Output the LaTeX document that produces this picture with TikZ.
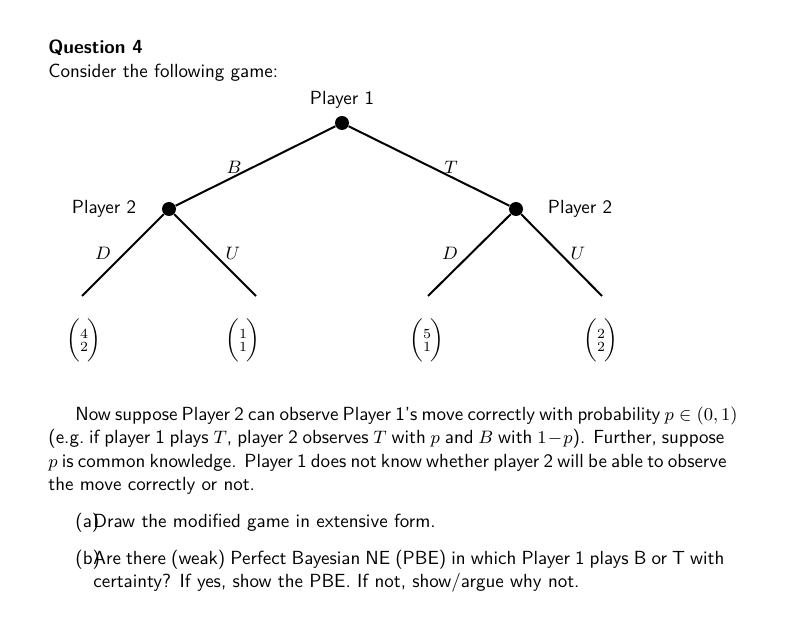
\documentclass[tikz,border=0pt]{standalone}
\usepackage{amsmath}
\renewcommand{\familydefault}{\sfdefault}
\newcommand{\payoff}[2]{$\left(\begin{matrix}\scriptstyle #1\\[-5pt] \scriptstyle #2\end{matrix}\right)$}
\begin{document}
\fontsize{9.5}{11.5}\selectfont
\begin{tikzpicture}[x=0.5pt,y=-0.5pt,
  dot/.style={circle,fill=black,inner sep=0pt,minimum size=7pt},
  edge/.style={line width=1pt},
  lab/.style={inner sep=0pt},
  pay/.style={inner sep=0pt},
  ln/.style={anchor=base west,inner sep=0pt}]
\useasboundingbox (0,0) rectangle (788,636);
\node[ln,font=\bfseries] (q) at (48,54) {Question 4};
\node[ln] (c) at (48,78) {Consider the following game:};
\node[dot] (r) at (342,123) {};
\node[dot] (l) at (169,209) {};
\node[dot] (rr) at (516,209) {};
\coordinate (l1) at (82,296);
\coordinate (l2) at (256,296);
\coordinate (l3) at (428,296);
\coordinate (l4) at (602,296);
\draw[edge] (r) -- (l); \draw[edge] (r) -- (rr);
\draw[edge] (l) -- (l1); \draw[edge] (l) -- (l2);
\draw[edge] (rr) -- (l3); \draw[edge] (rr) -- (l4);
\node[lab] (p1) at (342,100) {Player 1};
\node[lab] (p2a) at (104,209) {Player 2};
\node[lab] (p2b) at (580,209) {Player 2};
\node[lab] (b) at (234,167) {$B$};
\node[lab] (t) at (451,167) {$T$};
\node[lab] (d1) at (103,253) {$D$};
\node[lab] (u1) at (233,253) {$U$};
\node[lab] (d2) at (450,253) {$D$};
\node[lab] (u2) at (578,253) {$U$};
\node[pay] (a1) at (84,340) {\payoff{4}{2}};
\node[pay] (a2) at (243,340) {\payoff{1}{1}};
\node[pay] (a3) at (427,340) {\payoff{5}{1}};
\node[pay] (a4) at (601,340) {\payoff{2}{2}};
\node[ln] (pl1) at (75,421) {\hbox to 324.5pt{Now suppose Player 2 can observe Player 1's move correctly with probability $p\in(0,1)$}};
\node[ln] (pl2) at (48,444) {\hbox to 338pt{(e.g.\ if player 1 plays $T$, player 2 observes $T$ with $p$ and $B$ with $1-p$). Further, suppose}};
\node[ln] (pl3) at (48,467) {\hbox to 338pt{$p$ is common knowledge. Player 1 does not know whether player 2 will be able to observe}};
\node[ln] (pl4) at (48,490) {the move correctly or not.};
\node[ln] (ia) at (75,527) {(a)};
\node[ln] (ta) at (93,527) {Draw the modified game in extensive form.};
\node[ln] (ib) at (75,565) {(b)};
\node[ln] (tb1) at (93,565) {\hbox to 315.5pt{Are there (weak) Perfect Bayesian NE (PBE) in which Player 1 plays B or T with}};
\node[ln] (tb2) at (93,588) {certainty? If yes, show the PBE. If not, show/argue why not.};
\end{tikzpicture}
\end{document}
